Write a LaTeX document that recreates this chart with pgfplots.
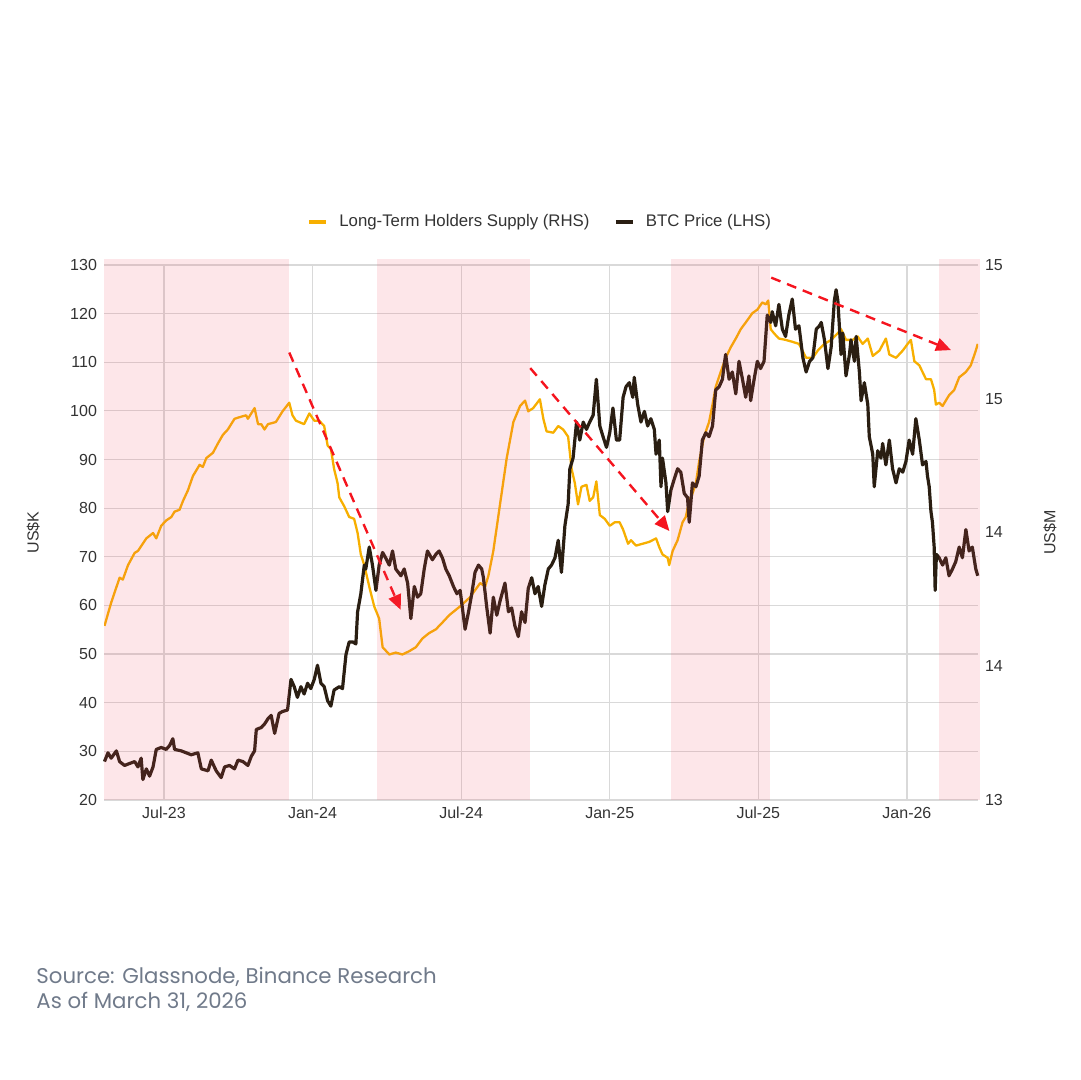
\documentclass[border=0pt]{standalone}
\usepackage{fontspec}
\setmainfont{Liberation Sans}
\newfontfamily\srcfont{Poppins}
\usepackage{pgfplots}
\pgfplotsset{compat=1.18}
\usetikzlibrary{arrows.meta}
\definecolor{lth}{RGB}{247,175,0}
\definecolor{btc}{RGB}{42,30,18}
\definecolor{gridc}{RGB}{217,217,217}
\definecolor{pinkc}{RGB}{240,76,98}
\definecolor{arrowred}{RGB}{245,20,30}
\definecolor{srcgray}{RGB}{112,122,138}
\definecolor{tickc}{RGB}{51,51,51}

\pgfplotsset{
  base/.style={
    at={(52pt,140pt)}, anchor=south west,
    scale only axis, width=437pt, height=267.5pt,
    xmin=3.58, xmax=38.87,
    axis line style={draw=none},
    major tick length=0pt,
    tick label style={font=\fontsize{8}{9}\selectfont, text=tickc},
    /pgf/number format/assume math mode=true,
    label style={font=\fontsize{8}{9}\selectfont, text=tickc},
  }
}

\begin{document}
\begin{tikzpicture}
\path[use as bounding box] (0,0) rectangle (540pt,540pt);

% Axis A: grid and left ticks
\begin{axis}[base,
  ymin=20, ymax=130, ytick={20,30,...,130},
  xtick={6,12,18,24,30,36},
  xticklabels={Jul-23,Jan-24,Jul-24,Jan-25,Jul-25,Jan-26},
  grid=major, grid style={gridc, line width=0.6pt},
  ylabel={US\$K},
  ylabel style={at={(axis description cs:-0.081,0.5)}, anchor=center}]
\addplot[draw=none, forget plot] coordinates {(6,50)};
\end{axis}

% Axis B: LTH supply, right axis
\begin{axis}[base,
  ymin=13, ymax=15,
  axis y line*=right, axis x line=none,
  ytick={13,13.5,14,14.5,15}, yticklabels={13,14,14,15,15},
  ylabel={US\$M},
  ylabel style={at={(axis description cs:1.0824,0.5)}, anchor=center}]
\addplot[lth, line width=1.15pt, line join=round] coordinates {
(3.60,13.651)(3.87,13.738)(4.21,13.831)(4.34,13.824)(4.55,13.878)(4.82,13.924)(4.95,13.931)(5.29,13.978)(5.56,13.998)(5.69,13.978)(5.89,14.025)(6.09,14.045)(6.30,14.058)(6.43,14.078)(6.63,14.085)(6.77,14.118)(6.97,14.158)(7.17,14.211)(7.44,14.253)(7.57,14.245)(7.71,14.278)(7.98,14.298)(8.18,14.333)(8.38,14.365)(8.58,14.385)(8.85,14.425)(9.12,14.433)(9.32,14.438)(9.39,14.425)(9.66,14.465)(9.80,14.405)(9.93,14.405)(10.06,14.385)(10.2,14.405)
(10.52,14.413)(10.79,14.453)(11.06,14.485)(11.19,14.438)(11.33,14.418)(11.66,14.405)(11.87,14.445)(12.07,14.418)(12.27,14.418)(12.47,14.398)(12.61,14.325)(12.74,14.313)(12.87,14.238)(13.01,14.185)(13.08,14.131)(13.28,14.098)(13.48,14.058)(13.68,14.051)(13.82,13.998)(13.95,13.918)(14.09,13.878)(14.29,13.798)(14.49,13.724)(14.69,13.678)(14.83,13.571)(15.1,13.544)(15.36,13.551)(15.63,13.544)(15.9,13.556)(16.17,13.571)(16.44,13.604)(16.71,13.624)(16.98,13.638)(17.25,13.664)(17.52,13.691)
(17.96,13.724)(18.36,13.758)(18.77,13.811)(18.97,13.798)(19.1,13.838)(19.3,13.931)(19.57,14.105)(19.84,14.278)(20.11,14.413)(20.38,14.473)(20.58,14.493)(20.71,14.453)(20.91,14.465)(21.18,14.498)(21.32,14.425)(21.45,14.378)(21.72,14.373)(21.92,14.398)(22.12,14.385)(22.32,14.358)(22.46,14.238)(22.59,14.185)(22.72,14.105)(22.86,14.171)(23.06,14.178)(23.19,14.118)(23.33,14.131)(23.46,14.191)(23.6,14.065)(23.8,14.051)(24.0,14.025)(24.2,14.038)(24.4,14.038)(24.54,14.011)(24.74,13.958)
(24.86,13.971)(25.06,13.951)(25.33,13.958)(25.6,13.965)(25.87,13.978)(26.0,13.945)(26.13,13.918)(26.34,13.905)(26.4,13.878)(26.54,13.931)(26.74,13.971)(26.94,14.038)(27.07,14.058)(27.21,14.118)(27.34,14.145)(27.48,14.185)(27.61,14.265)(27.81,14.358)(28.01,14.413)(28.15,14.478)(28.28,14.545)(28.48,14.600)(28.68,14.653)(28.89,14.693)(29.09,14.725)(29.29,14.760)(29.49,14.785)(29.76,14.820)(29.96,14.833)(30.16,14.860)(30.3,14.853)(30.4,14.867)(30.5,14.760)(30.63,14.745)(30.83,14.725)(31.1,14.720)(31.37,14.713)(31.64,14.705)
(31.93,14.653)(32.2,14.653)(32.4,14.680)(32.67,14.705)(32.94,14.720)(33.21,14.745)(33.34,14.760)(33.54,14.720)(33.81,14.720)(34.01,14.733)(34.21,14.705)(34.42,14.725)(34.62,14.660)(34.89,14.680)(35.15,14.725)(35.29,14.665)(35.56,14.653)(35.83,14.680)(36.03,14.705)(36.16,14.720)(36.3,14.640)(36.5,14.625)(36.63,14.600)(36.77,14.573)(36.97,14.573)(37.1,14.533)(37.17,14.478)(37.3,14.485)(37.44,14.473)(37.57,14.493)(37.7,14.513)(37.91,14.533)(38.11,14.580)(38.38,14.600)(38.58,14.625)(38.78,14.680)(38.86,14.705)
};
\end{axis}

% Axis C: BTC price, arrows, shading overlay, legend
\begin{axis}[base,
  ymin=20, ymax=130, hide axis, clip=false,
  legend style={at={(0.5,1.0804)}, anchor=center, draw=none, fill=none,
    legend columns=2, font=\fontsize{8.4}{10}\selectfont, text=tickc,
    /tikz/every odd column/.append style={column sep=3.5pt},
    /tikz/every even column/.append style={column sep=10pt}},
  legend image code/.code={\draw[#1, line width=2.2pt] (0pt,0pt) -- (8.5pt,0pt);}]
\addlegendimage{lth}
\addlegendentry{Long-Term Holders Supply (RHS)}
\addplot[btc, line width=1.6pt, line join=round] coordinates {
(3.60,27.9)(3.74,29.7)(3.87,28.6)(4.08,30.1)(4.21,27.9)(4.41,27.1)(4.61,27.5)(4.82,27.9)(4.95,26.8)(5.08,28.6)(5.15,24.2)(5.29,26.4)(5.42,24.9)(5.56,26.8)(5.69,30.4)(5.89,30.8)(6.09,30.4)(6.23,31.2)(6.36,32.6)(6.43,30.4)(6.70,30.1)(6.90,29.7)(7.10,29.3)(7.37,29.7)(7.51,26.4)(7.78,26.0)(7.91,28.2)(8.11,26.0)(8.31,24.6)(8.45,26.8)(8.65,27.1)(8.85,26.4)(8.99,28.2)(9.19,27.9)(9.39,27.1)(9.53,29.0)(9.66,30.1)(9.73,34.5)(9.93,34.9)(10.06,35.6)(10.2,36.7)(10.33,37.4)(10.47,33.7)
(10.65,37.8)(10.79,38.2)(10.99,38.5)(11.13,44.8)(11.26,43.3)(11.39,41.1)(11.53,43.3)(11.66,41.8)(11.8,44.0)(11.93,42.9)(12.07,44.8)(12.2,47.7)(12.34,44.0)(12.47,43.3)(12.61,40.4)(12.74,39.3)(12.87,42.6)(13.08,43.3)(13.21,42.9)(13.35,49.9)(13.48,52.5)(13.62,52.5)(13.75,52.1)(13.82,58.7)(13.95,62.4)(14.09,68.3)(14.15,67.5)(14.29,72.0)(14.42,68.3)(14.56,63.1)(14.69,68.3)(14.83,70.9)(14.96,69.7)(15.1,68.3)(15.23,71.2)(15.36,67.5)(15.57,66.1)(15.7,67.5)(15.84,64.6)(15.97,57.3)(16.11,63.9)(16.24,61.7)(16.37,62.4)(16.51,67.5)(16.64,71.2)(16.84,69.4)(16.98,70.5)(17.11,71.2)(17.25,69.7)(17.38,67.5)(17.52,66.1)
(17.69,63.9)(17.83,62.4)(17.96,63.1)(18.16,55.1)(18.3,58.7)(18.43,62.4)(18.56,66.8)(18.7,68.3)(18.83,67.5)(18.9,65.7)(19.03,59.8)(19.17,54.3)(19.3,61.7)(19.44,58.0)(19.57,60.9)(19.77,64.6)(19.91,58.7)(20.04,59.5)(20.17,55.8)(20.31,53.6)(20.44,58.7)(20.58,56.5)(20.71,63.5)(20.85,65.7)(20.98,62.4)(21.11,63.9)(21.25,59.8)(21.38,64.2)(21.52,67.5)(21.65,68.3)(21.79,69.8)(21.92,73.4)(22.05,66.8)(22.19,76.4)(22.32,80.8)(22.39,88.1)(22.52,90.3)(22.66,97.7)(22.79,94.0)(22.93,97.7)(23.06,96.2)(23.19,97.7)(23.33,99.1)(23.46,106.5)(23.6,96.9)(23.73,94.7)(23.87,92.5)(24.0,95.5)(24.13,100.6)(24.27,94.0)(24.4,94.0)(24.54,102.8)
(24.66,105.0)(24.79,105.8)(24.93,102.8)(24.99,106.9)(25.13,101.3)(25.26,97.7)(25.4,99.9)(25.53,96.9)(25.66,98.4)(25.8,96.2)(25.87,91.1)(26.0,94.0)(26.07,84.4)(26.13,90.3)(26.27,85.2)(26.34,79.3)(26.47,83.7)(26.6,85.9)(26.74,88.1)(26.87,87.4)(27.01,83.0)(27.14,82.2)(27.21,77.1)(27.34,85.2)(27.48,84.4)(27.61,86.6)(27.74,94.0)(27.88,95.5)(28.01,94.7)(28.15,96.9)(28.28,104.3)(28.42,105.0)(28.55,106.5)(28.62,109.4)(28.68,111.6)(28.82,106.5)(28.95,108.0)(29.09,103.5)(29.22,110.2)(29.36,106.5)(29.49,102.8)(29.62,107.2)(29.69,102.1)(29.83,106.5)(29.96,110.2)(30.09,108.7)(30.23,110.2)(30.36,119.7)(30.5,118.2)(30.56,120.4)(30.7,117.5)(30.83,121.9)(30.97,116.8)(31.1,115.3)(31.23,119.7)(31.37,123.0)(31.5,116.8)(31.64,117.5)
(31.8,110.9)(31.93,108.0)(32.07,110.2)(32.2,110.9)(32.34,116.8)(32.47,117.5)(32.54,118.2)(32.67,114.6)(32.81,108.7)(32.94,113.1)(33.07,122.7)(33.14,124.9)(33.21,122.7)(33.34,111.6)(33.41,116.0)(33.54,107.2)(33.68,111.6)(33.74,114.6)(33.88,110.2)(33.95,115.3)(34.08,108.0)(34.15,102.1)(34.28,105.8)(34.42,101.3)(34.48,94.7)(34.62,91.1)(34.68,84.4)(34.82,91.8)(34.95,90.3)(35.02,93.3)(35.15,88.9)(35.29,94.0)(35.42,88.1)(35.56,85.2)(35.69,88.1)(35.83,87.4)(35.96,89.6)(36.09,94.0)(36.23,91.1)(36.36,98.4)(36.5,94.0)(36.63,88.9)(36.77,89.6)(36.83,86.6)(36.9,84.4)(36.97,79.3)(37.03,77.1)(37.1,72.0)(37.14,63.1)(37.19,70.5)(37.3,69.8)(37.44,68.3)(37.57,69.8)(37.7,66.1)(37.84,67.5)(37.97,69.0)(38.11,72.0)(38.24,69.8)(38.38,75.6)(38.51,71.2)(38.64,72.0)(38.78,67.5)(38.86,66.1)
};
\addlegendentry{BTC Price (LHS)}
\draw[arrowred, line width=1.2pt, dash pattern=on 5pt off 3.5pt, -{Triangle[length=7.5pt,width=6.5pt]}] (axis cs:11.06,112.0) -- (axis cs:15.56,59.1);
\draw[arrowred, line width=1.2pt, dash pattern=on 5pt off 3.5pt, -{Triangle[length=7.5pt,width=6.5pt]}] (axis cs:20.79,108.8) -- (axis cs:26.41,75.3);
\draw[arrowred, line width=1.2pt, dash pattern=on 5pt off 3.5pt, -{Triangle[length=7.5pt,width=6.5pt]}] (axis cs:30.52,127.4) -- (axis cs:37.78,112.5);
\fill[pinkc, fill opacity=0.14] (axis cs:3.58,20) rectangle (axis cs:11.04,131.2);
\fill[pinkc, fill opacity=0.14] (axis cs:14.62,20) rectangle (axis cs:20.79,131.2);
\fill[pinkc, fill opacity=0.14] (axis cs:26.48,20) rectangle (axis cs:30.49,131.2);
\fill[pinkc, fill opacity=0.14] (axis cs:37.28,20) rectangle (axis cs:38.97,131.2);
\end{axis}

\node[anchor=base west, inner sep=0pt, font=\srcfont\fontsize{10.65}{12}\selectfont, text=srcgray] at (18pt,48pt) {Source: Glassnode, Binance Research};
\node[anchor=base west, inner sep=0pt, font=\srcfont\fontsize{10.65}{12}\selectfont, text=srcgray] at (18pt,35.5pt) {As of March 31, 2026};
\end{tikzpicture}
\end{document}
